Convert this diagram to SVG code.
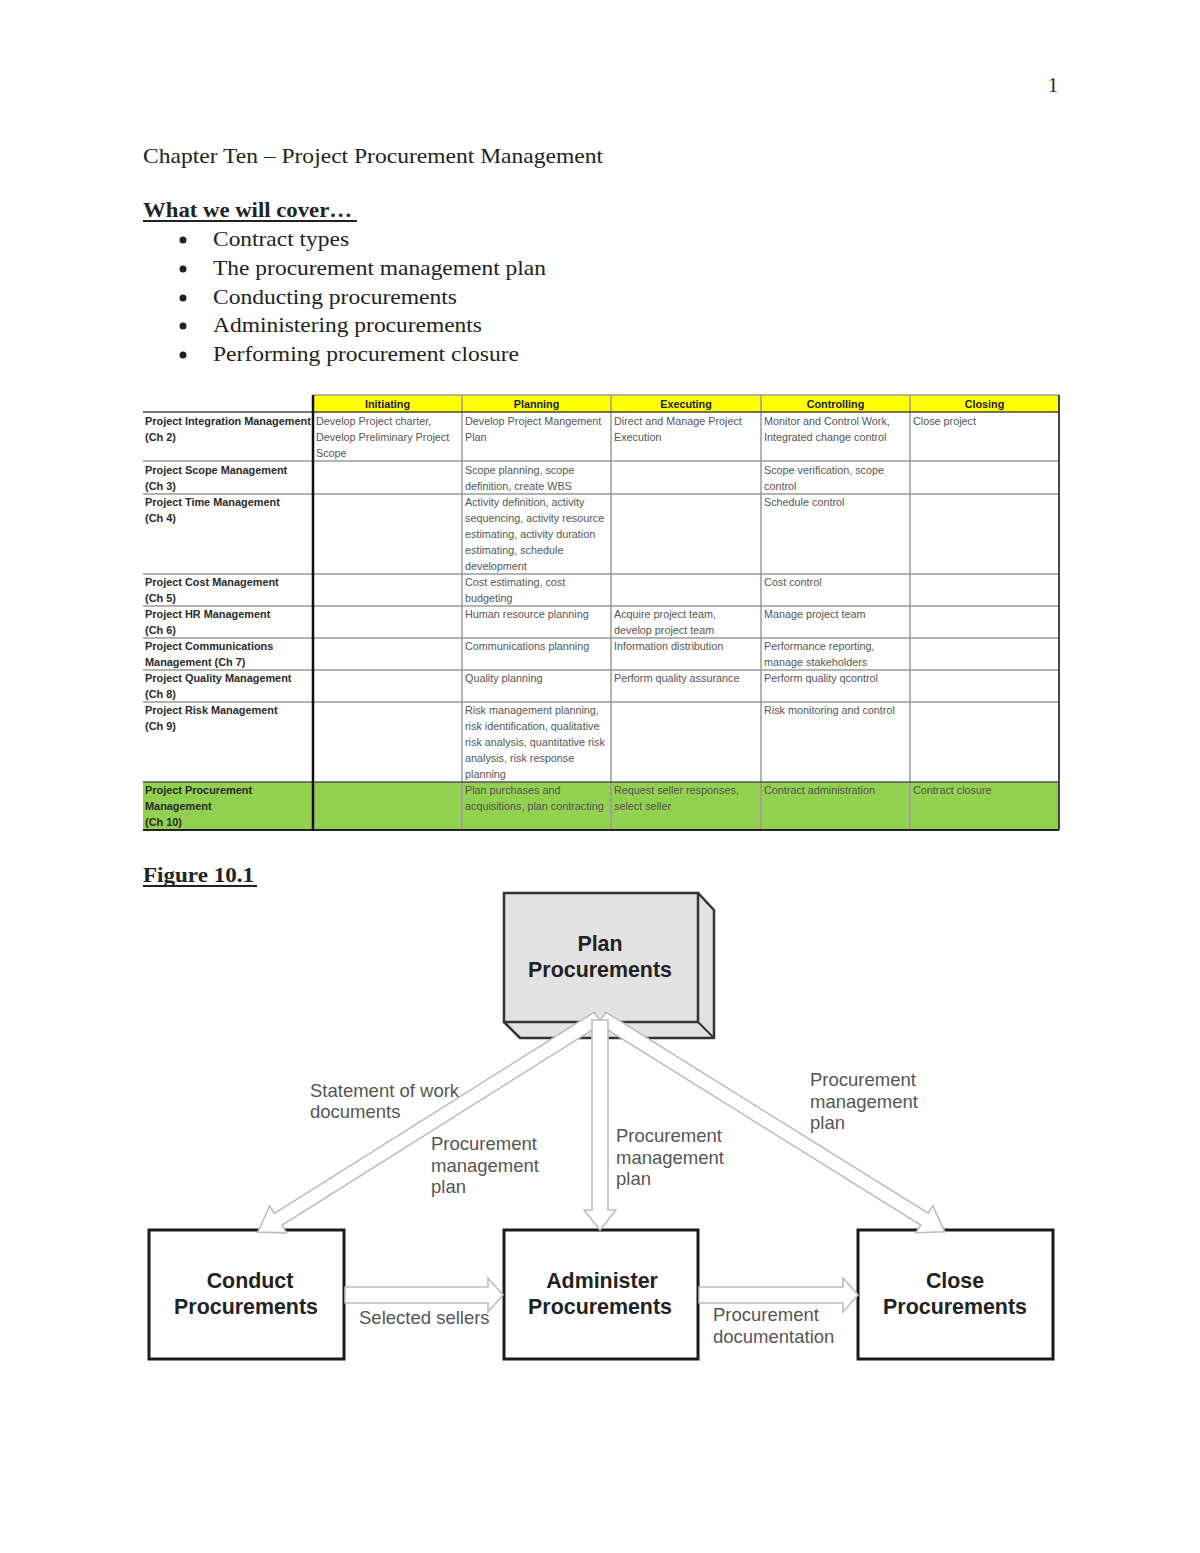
<svg xmlns="http://www.w3.org/2000/svg" width="1200" height="1553" viewBox="0 0 1200 1553">
<style>
.serif{font-family:"Liberation Serif","DejaVu Serif",serif;fill:#222}
.th{font-family:"Liberation Sans",Arial,sans-serif;font-size:10.8px;font-weight:bold;fill:#222;text-anchor:middle}
.rh{font-family:"Liberation Sans",Arial,sans-serif;font-size:10.9px;font-weight:bold;fill:#2a2a2a}
.td{font-family:"Liberation Sans",Arial,sans-serif;font-size:10.8px;fill:#555}
.grid{stroke:#9a9a9a;stroke-width:1.5;fill:none}
.box{fill:#fff;stroke:#1a1a1a;stroke-width:3}
.bl{font-family:"Liberation Sans",Arial,sans-serif;font-size:21.4px;font-weight:bold;fill:#222;text-anchor:middle}
.lbl{font-family:"Liberation Sans",Arial,sans-serif;font-size:18.5px;fill:#555}
.arr{fill:#fff;stroke:#bdbdbd;stroke-width:1.6;stroke-linejoin:miter}
</style>

<text class="serif" x="1053" y="92" font-size="20" text-anchor="middle">1</text>
<text class="serif" x="143" y="163" font-size="21" textLength="460" lengthAdjust="spacingAndGlyphs">Chapter Ten – Project Procurement Management</text>
<text class="serif" x="143" y="217" font-size="21" font-weight="bold" textLength="209" lengthAdjust="spacingAndGlyphs">What we will cover…</text>
<line x1="143" y1="221" x2="357" y2="221" stroke="#222" stroke-width="2"/>
<g fill="#222">
<circle cx="183" cy="240" r="3.5"/><circle cx="183" cy="269" r="3.5"/><circle cx="183" cy="298" r="3.5"/><circle cx="183" cy="326" r="3.5"/><circle cx="183" cy="355" r="3.5"/>
</g>
<text class="serif" x="213" y="246" font-size="21" textLength="136" lengthAdjust="spacingAndGlyphs">Contract types</text>
<text class="serif" x="213" y="275" font-size="21" textLength="333" lengthAdjust="spacingAndGlyphs">The procurement management plan</text>
<text class="serif" x="213" y="304" font-size="21" textLength="244" lengthAdjust="spacingAndGlyphs">Conducting procurements</text>
<text class="serif" x="213" y="332" font-size="21" textLength="269" lengthAdjust="spacingAndGlyphs">Administering procurements</text>
<text class="serif" x="213" y="361" font-size="21" textLength="306" lengthAdjust="spacingAndGlyphs">Performing procurement closure</text>

<g id="table">
<rect x="313" y="395" width="746" height="17" fill="#ffff00"/>
<rect x="143" y="782" width="916" height="48" fill="#92d050"/>
<g class="grid">
<line x1="313" y1="395" x2="1059" y2="395"/>
<line x1="143" y1="461" x2="1059" y2="461"/>
<line x1="143" y1="494" x2="1059" y2="494"/>
<line x1="143" y1="574" x2="1059" y2="574"/>
<line x1="143" y1="606" x2="1059" y2="606"/>
<line x1="143" y1="638" x2="1059" y2="638"/>
<line x1="143" y1="670" x2="1059" y2="670"/>
<line x1="143" y1="702" x2="1059" y2="702"/>
<line x1="462" y1="395" x2="462" y2="830"/>
<line x1="611" y1="395" x2="611" y2="830"/>
<line x1="761" y1="395" x2="761" y2="830"/>
<line x1="910" y1="395" x2="910" y2="830"/>
</g>
<line x1="143" y1="412" x2="1059" y2="412" stroke="#444" stroke-width="1.6"/>
<line x1="143" y1="782" x2="1059" y2="782" stroke="#555" stroke-width="1.6"/>
<line x1="143" y1="830" x2="1059" y2="830" stroke="#222" stroke-width="2"/>
<line x1="1059" y1="395" x2="1059" y2="830" stroke="#333" stroke-width="1.8"/>
<line x1="313" y1="395" x2="313" y2="831" stroke="#111" stroke-width="2.5"/>

<text class="th" x="387.5" y="408">Initiating</text>
<text class="th" x="536.5" y="408">Planning</text>
<text class="th" x="686" y="408">Executing</text>
<text class="th" x="835.5" y="408">Controlling</text>
<text class="th" x="984.5" y="408">Closing</text>

<text class="rh" x="145" y="425">Project Integration Management</text>
<text class="rh" x="145" y="441">(Ch 2)</text>
<text class="rh" x="145" y="474">Project Scope Management</text>
<text class="rh" x="145" y="490">(Ch 3)</text>
<text class="rh" x="145" y="506">Project Time Management</text>
<text class="rh" x="145" y="522">(Ch 4)</text>
<text class="rh" x="145" y="586">Project Cost Management</text>
<text class="rh" x="145" y="602">(Ch 5)</text>
<text class="rh" x="145" y="618">Project HR Management</text>
<text class="rh" x="145" y="634">(Ch 6)</text>
<text class="rh" x="145" y="650">Project Communications</text>
<text class="rh" x="145" y="666">Management (Ch 7)</text>
<text class="rh" x="145" y="682">Project Quality Management</text>
<text class="rh" x="145" y="698">(Ch 8)</text>
<text class="rh" x="145" y="714">Project Risk Management</text>
<text class="rh" x="145" y="730">(Ch 9)</text>
<text class="rh" x="145" y="794">Project Procurement</text>
<text class="rh" x="145" y="810">Management</text>
<text class="rh" x="145" y="826">(Ch 10)</text>

<text class="td" x="316" y="425">Develop Project charter,</text>
<text class="td" x="316" y="441">Develop Preliminary Project</text>
<text class="td" x="316" y="457">Scope</text>

<text class="td" x="465" y="425">Develop Project Mangement</text>
<text class="td" x="465" y="441">Plan</text>
<text class="td" x="465" y="474">Scope planning, scope</text>
<text class="td" x="465" y="490">definition, create WBS</text>
<text class="td" x="465" y="506">Activity definition, activity</text>
<text class="td" x="465" y="522">sequencing, activity resource</text>
<text class="td" x="465" y="538">estimating, activity duration</text>
<text class="td" x="465" y="554">estimating, schedule</text>
<text class="td" x="465" y="570">development</text>
<text class="td" x="465" y="586">Cost estimating, cost</text>
<text class="td" x="465" y="602">budgeting</text>
<text class="td" x="465" y="618">Human resource planning</text>
<text class="td" x="465" y="650">Communications planning</text>
<text class="td" x="465" y="682">Quality planning</text>
<text class="td" x="465" y="714">Risk management planning,</text>
<text class="td" x="465" y="730">risk identification, qualitative</text>
<text class="td" x="465" y="746">risk analysis, quantitative risk</text>
<text class="td" x="465" y="762">analysis, risk response</text>
<text class="td" x="465" y="778">planning</text>
<text class="td" x="465" y="794">Plan purchases and</text>
<text class="td" x="465" y="810">acquisitions, plan contracting</text>

<text class="td" x="614" y="425">Direct and Manage Project</text>
<text class="td" x="614" y="441">Execution</text>
<text class="td" x="614" y="618">Acquire project team,</text>
<text class="td" x="614" y="634">develop project team</text>
<text class="td" x="614" y="650">Information distribution</text>
<text class="td" x="614" y="682">Perform quality assurance</text>
<text class="td" x="614" y="794">Request seller responses,</text>
<text class="td" x="614" y="810">select seller</text>

<text class="td" x="764" y="425">Monitor and Control Work,</text>
<text class="td" x="764" y="441">Integrated change control</text>
<text class="td" x="764" y="474">Scope verification, scope</text>
<text class="td" x="764" y="490">control</text>
<text class="td" x="764" y="506">Schedule control</text>
<text class="td" x="764" y="586">Cost control</text>
<text class="td" x="764" y="618">Manage project team</text>
<text class="td" x="764" y="650">Performance reporting,</text>
<text class="td" x="764" y="666">manage stakeholders</text>
<text class="td" x="764" y="682">Perform quality qcontrol</text>
<text class="td" x="764" y="714">Risk monitoring and control</text>
<text class="td" x="764" y="794">Contract administration</text>

<text class="td" x="913" y="425">Close project</text>
<text class="td" x="913" y="794">Contract closure</text>
</g>

<text class="serif" x="143" y="882" font-size="21" font-weight="bold" textLength="111" lengthAdjust="spacingAndGlyphs">Figure 10.1</text>
<line x1="143" y1="886" x2="257" y2="886" stroke="#222" stroke-width="2"/>

<g id="plan-procurements">
<path d="M698,893 L714,910 L714,1038 L520,1038 L504,1022 Z" fill="#e2e2e2" stroke="#333" stroke-width="2.5" stroke-linejoin="round"/>
<line x1="698" y1="1022" x2="714" y2="1038" stroke="#333" stroke-width="2"/>
<rect x="504" y="893" width="194" height="129" fill="#e2e2e2" stroke="#333" stroke-width="2.5"/>
<text class="bl" x="600" y="951">Plan</text>
<text class="bl" x="600" y="977">Procurements</text>
</g>

<g id="conduct-procurements">
<rect class="box" x="149" y="1230" width="195" height="129"/>
<text class="bl" x="250" y="1288">Conduct</text>
<text class="bl" x="246" y="1314">Procurements</text>
</g>

<g id="administer-procurements">
<rect class="box" x="504" y="1230" width="194" height="129"/>
<text class="bl" x="602" y="1288">Administer</text>
<text class="bl" x="600" y="1314">Procurements</text>
</g>

<g id="close-procurements">
<rect class="box" x="858" y="1230" width="195" height="129"/>
<text class="bl" x="955" y="1288">Close</text>
<text class="bl" x="955" y="1314">Procurements</text>
</g>

<g id="connectors">
<path class="arr" transform="translate(598,1018) rotate(147.81)" d="M0,-7 L378,-7 L378,-16 L402,0 L378,16 L378,7 L0,7 Z"/>
<path class="arr" transform="translate(602,1018) rotate(31.96)" d="M0,-7 L380,-7 L380,-16 L404,0 L380,16 L380,7 L0,7 Z"/>
<path class="arr" transform="translate(600,1020) rotate(90)" d="M0,-8 L190,-8 L190,-16 L210,0 L190,16 L190,8 L0,8 Z"/>
<path class="arr" transform="translate(345,1295)" d="M0,-8 L143,-8 L143,-17 L158,0 L143,17 L143,8 L0,8 Z"/>
<path class="arr" transform="translate(699,1295)" d="M0,-8 L144,-8 L144,-17 L159,0 L144,17 L144,8 L0,8 Z"/>
</g>

<g id="labels">
<text class="lbl" x="310" y="1097">Statement of work</text>
<text class="lbl" x="310" y="1118">documents</text>
<text class="lbl" x="431" y="1150">Procurement</text>
<text class="lbl" x="431" y="1172">management</text>
<text class="lbl" x="431" y="1193">plan</text>
<text class="lbl" x="616" y="1142">Procurement</text>
<text class="lbl" x="616" y="1164">management</text>
<text class="lbl" x="616" y="1185">plan</text>
<text class="lbl" x="810" y="1086">Procurement</text>
<text class="lbl" x="810" y="1108">management</text>
<text class="lbl" x="810" y="1129">plan</text>
<text class="lbl" x="359" y="1324">Selected sellers</text>
<text class="lbl" x="713" y="1321">Procurement</text>
<text class="lbl" x="713" y="1343">documentation</text>
</g>
</svg>
